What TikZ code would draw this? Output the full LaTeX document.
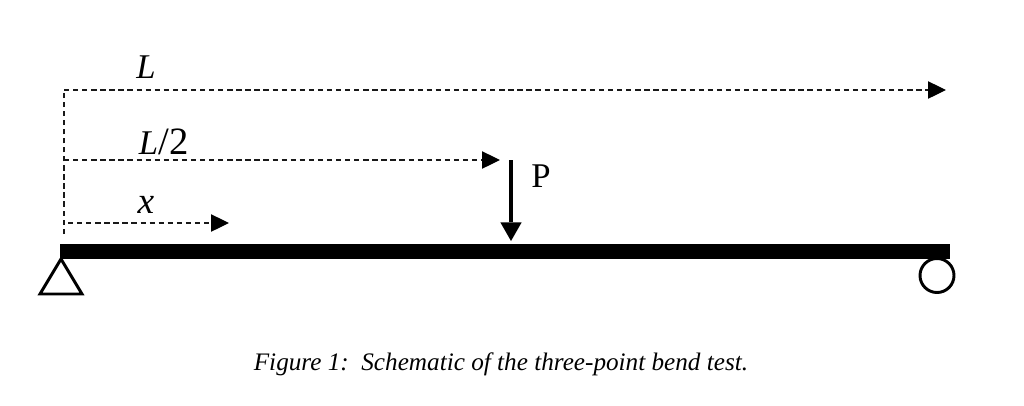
\documentclass[tikz,border=0pt]{standalone}
\usepackage{fontspec}
\setmainfont{Liberation Serif}
\usetikzlibrary{arrows.meta}
\tikzset{
  guide/.style={draw=black!90,line width=0.9pt,dash pattern=on 4pt off 2.8pt},
  dim/.style={guide,-{Triangle[length=13.5pt,width=13pt,color=black]}},
  load/.style={draw=black,line width=2.3pt,-{Triangle[length=14pt,width=16pt,line width=0pt]}},
  support/.style={draw=black,line width=2.2pt,fill=white},
  mathlabel/.style={inner sep=0pt,font=\fontsize{26}{28}\selectfont},
  caption/.style={inner sep=0pt,font=\fontsize{18.9}{21}\selectfont\itshape}
}
\begin{document}
\begin{tikzpicture}[x=0.75pt,y=-0.75pt]
\useasboundingbox (0,0) rectangle (1024,405);
\fill[white] (0,0) rectangle (1024,405);
% reference points
\coordinate (top) at (64,90);
\coordinate (mid) at (64,160);
\coordinate (bot) at (64,234);
\coordinate (ltip) at (946,90);
\coordinate (htip) at (500,160);
\coordinate (xstart) at (68,223);
\coordinate (xtip) at (229,223);
\coordinate (pstart) at (511,160);
\coordinate (ptip) at (511,241);
% dashed guides
\draw[guide] (bot) -- (top);
\draw[dim] (top) -- (ltip);
\draw[dim] (mid) -- (htip);
\draw[dim] (xstart) -- (xtip);
% beam
\node[draw=none,fill=black,minimum width=667.5pt,minimum height=11.2pt,inner sep=0pt,anchor=north west] (beam) at (60,244) {};
% supports
\draw[support,line join=miter] (61,259) -- (82,294) -- (40,294) -- cycle;
\node[support,circle,minimum size=25.5pt,inner sep=0pt] (roller) at (937,275.5) {};
% load
\draw[load] (pstart) -- (ptip);
% labels
\node[mathlabel] (lL) at (146,67) {\itshape L};
\node[mathlabel] (lH) at (164,142) {\itshape L\kern0.5pt\upshape\fontsize{29}{30}\selectfont/2};
\node[mathlabel,font=\fontsize{28}{30}\selectfont] (lx) at (146,205) {\itshape x};
\node[inner sep=0pt,font=\fontsize{26}{28}\selectfont] (lP) at (541,176) {P};
\node[caption] (cap) at (501,364) {Figure 1:\ \ Schematic of the three-point bend test.};
\end{tikzpicture}
\end{document}
